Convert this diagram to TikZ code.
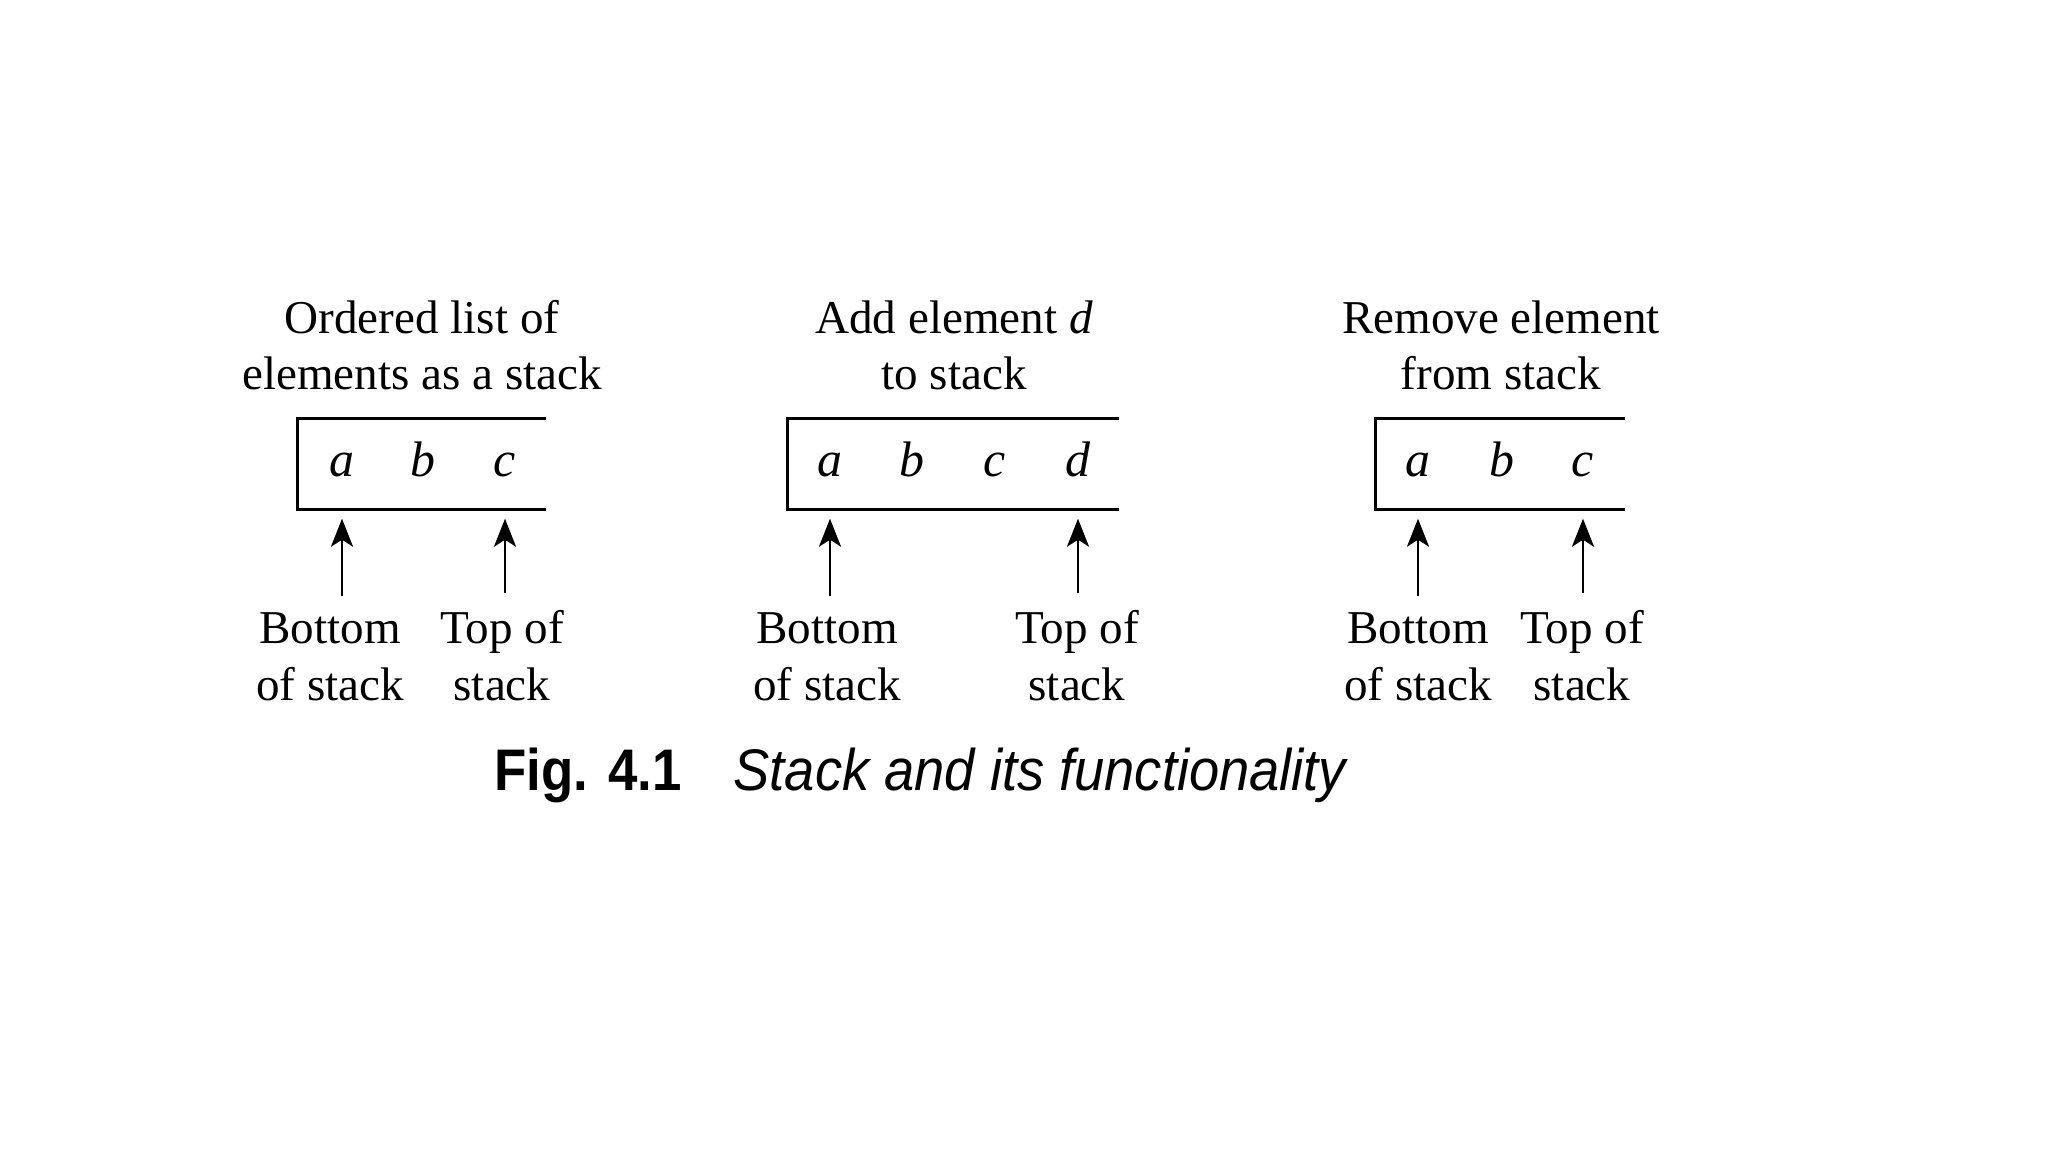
\documentclass[tikz,border=0pt]{standalone}
\usepackage{fontspec}
\setmainfont{Liberation Serif}
\newfontfamily\capfont[FakeStretch=0.9]{Liberation Sans}
\newfontfamily\capitfont[FakeStretch=0.925]{Liberation Sans}
\usetikzlibrary{arrows.meta}

\begin{document}
\begin{tikzpicture}[
  stackbox/.style={minimum height=0.9cm, inner sep=0pt},
  boxline/.style={line width=0.8pt},
  elem/.style={anchor=base, inner sep=0pt, font=\fontsize{14.2}{16}\selectfont\itshape},
  label/.style={anchor=base, inner sep=0pt, align=center, font=\fontsize{13.4}{16.2}\selectfont},
  arrow/.style={-{Stealth[length=0.28cm, width=0.22cm, inset=0.07cm]}, line width=0.7pt, shorten <=0.16cm, shorten >=0.09cm},
]
\useasboundingbox (0,0) rectangle (20.48,-11.52);

% Ordered list as a stack
\node[label] (title1) at (4.22,-3.90) {Ordered list of\\elements as a stack};
\node[stackbox, minimum width=2.47cm] (box1) at (4.215,-4.64) {};
\draw[boxline] (box1.north east) -- (box1.north west) -- (box1.south west) -- (box1.south east);
\node[elem] (a1) at (3.42,-4.77) {a};
\node[elem] (b1) at (4.23,-4.77) {b};
\node[elem] (c1) at (5.05,-4.77) {c};
\node[label] (bot1) at (3.30,-7.00) {Bottom\\of stack};
\node[label] (top1) at (5.02,-7.00) {Top of\\stack};

% Add element d
\node[label] (title2) at (9.54,-3.90) {Add element \textit{d}\\to stack};
\node[stackbox, minimum width=3.30cm] (box2) at (9.53,-4.64) {};
\draw[boxline] (box2.north east) -- (box2.north west) -- (box2.south west) -- (box2.south east);
\node[elem] (a2) at (8.30,-4.77) {a};
\node[elem] (b2) at (9.12,-4.77) {b};
\node[elem] (c2) at (9.95,-4.77) {c};
\node[elem] (d2) at (10.78,-4.77) {d};
\node[label] (bot2) at (8.27,-7.00) {Bottom\\of stack};
\node[label] (top2) at (10.77,-7.00) {Top of\\stack};

% Remove element
\node[label] (title3) at (15.01,-3.90) {Remove element\\from stack};
\node[stackbox, minimum width=2.48cm] (box3) at (15.00,-4.64) {};
\draw[boxline] (box3.north east) -- (box3.north west) -- (box3.south west) -- (box3.south east);
\node[elem] (a3) at (14.18,-4.77) {a};
\node[elem] (b3) at (15.02,-4.77) {b};
\node[elem] (c3) at (15.83,-4.77) {c};
\node[label] (bot3) at (14.18,-7.00) {Bottom\\of stack};
\node[label] (top3) at (15.82,-7.00) {Top of\\stack};

% Arrows
\draw[arrow] (a1 |- bot1.north) -- (a1 |- box1.south);
\draw[arrow] (c1 |- top1.north) -- (c1 |- box1.south);
\draw[arrow] (a2 |- bot2.north) -- (a2 |- box2.south);
\draw[arrow] (d2 |- top2.north) -- (d2 |- box2.south);
\draw[arrow] (a3 |- bot3.north) -- (a3 |- box3.south);
\draw[arrow] (c3 |- top3.north) -- (c3 |- box3.south);

% Caption
\node[anchor=base west, inner sep=0pt, font=\fontsize{16.7}{20}\selectfont] (caption) at (4.94,-7.90) {{\capfont\bfseries Fig. 4.1}\hspace{0.52cm}{\capitfont\itshape Stack and its functionality}};
\end{tikzpicture}
\end{document}
